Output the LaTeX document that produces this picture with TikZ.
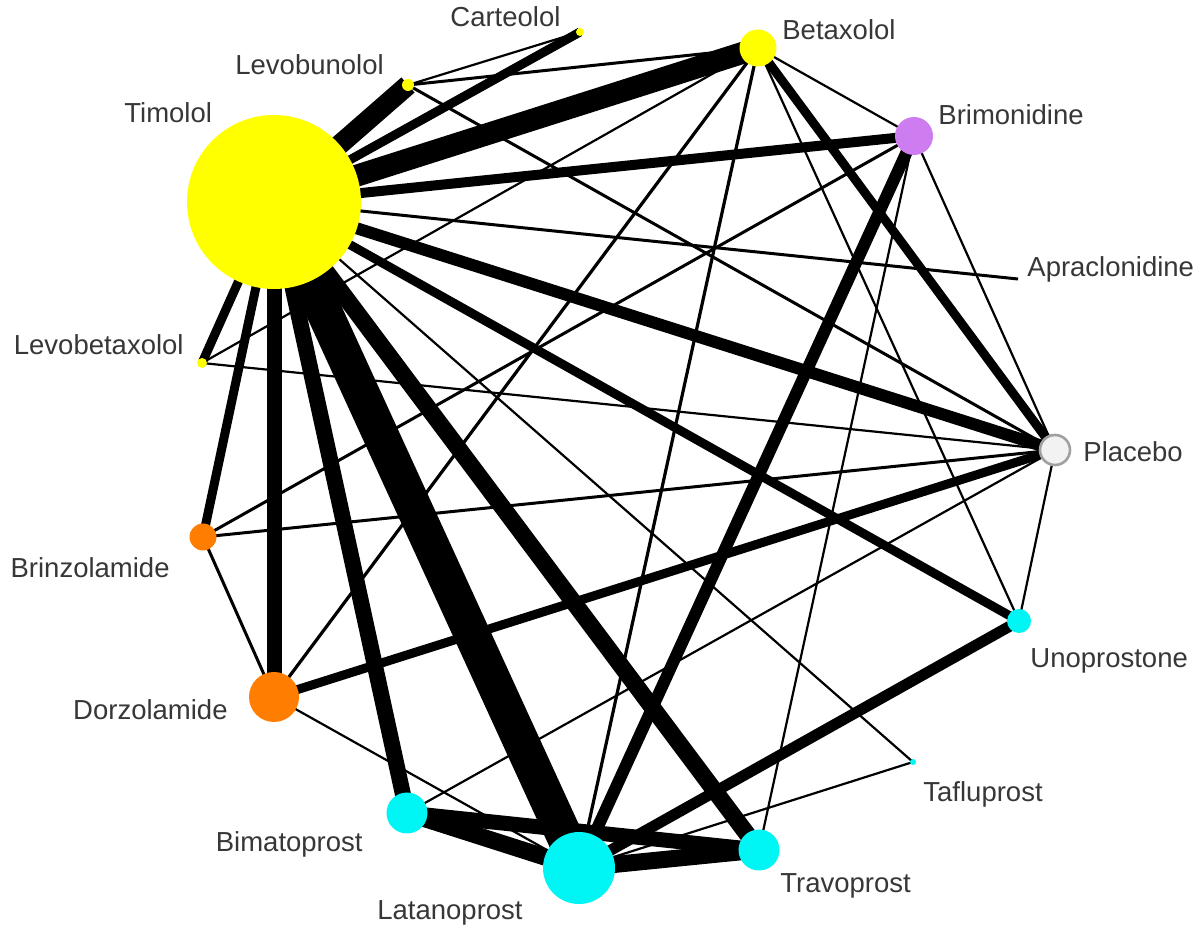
\documentclass[tikz,border=0pt]{standalone}
\usepackage{fontspec}
\setmainfont{Liberation Sans}
\definecolor{byel}{RGB}{255,255,0}
\definecolor{bvio}{RGB}{205,125,240}
\definecolor{bora}{RGB}{255,125,0}
\definecolor{bcya}{RGB}{0,245,245}
\definecolor{plfill}{RGB}{242,242,242}
\definecolor{pldraw}{RGB}{160,160,160}
\definecolor{txt}{RGB}{55,55,55}
\tikzset{
  ln/.style={draw=black, line width=#1*0.5pt},
  dot/.style={circle, inner sep=0pt, minimum size=#1*0.5pt},
  lab/.style={font=\fontsize{13.75}{16}\selectfont, text=txt, inner sep=0pt, text height=9.8pt, text depth=0pt}
}
\begin{document}
\begin{tikzpicture}[x=0.5pt,y=-0.5pt]
\useasboundingbox (0,0) rectangle (1200,929);
\fill[white] (0,0) rectangle (1200,929);
% positions (pixel units)
\coordinate (tim) at (274,202);
\coordinate (car) at (580,32);
\coordinate (lbu) at (408,85);
\coordinate (bet) at (758,48);
\coordinate (bri) at (914,136);
\coordinate (apr) at (1018,279);
\coordinate (pla) at (1055,450);
\coordinate (uno) at (1019,621);
\coordinate (taf) at (913,762);
\coordinate (tra) at (759,850);
\coordinate (lat) at (579,868);
\coordinate (bim) at (407,813);
\coordinate (dor) at (274,697);
\coordinate (brz) at (203,537);
\coordinate (lbx) at (202,363);
% thin edges
\draw[ln=2.2] (car) -- (lbu);
\draw[ln=3] (lbu) -- (bet);
\draw[ln=3] (lbu) -- (pla);
\draw[ln=2.2] (bet) -- (bri);
\draw[ln=2.2] (bet) -- (lbx);
\draw[ln=3.2] (bet) -- (dor);
\draw[ln=3.2] (bet) -- (lat);
\draw[ln=2.2] (bet) -- (uno);
\draw[ln=3] (bri) -- (brz);
\draw[ln=2.2] (bri) -- (tra);
\draw[ln=2.2] (bri) -- (pla);
\draw[ln=2.2] (lbx) -- (pla);
\draw[ln=3] (brz) -- (pla);
\draw[ln=3] (brz) -- (dor);
\draw[ln=2.2] (dor) -- (lat);
\draw[ln=2.2] (bim) -- (pla);
\draw[ln=2.2] (lat) -- (taf);
\draw[ln=2.2] (pla) -- (uno);
\draw[ln=2.2] (tim) -- (taf);
\draw[ln=3] (tim) -- (apr);
% thick edges
\draw[ln=9] (bet) -- (pla);
\draw[ln=12] (bri) -- (lat);
\draw[ln=9] (dor) -- (pla);
\draw[ln=11] (lat) -- (uno);
\draw[ln=17] (bim) -- (lat);
\draw[ln=15] (bim) -- (tra);
\draw[ln=17] (lat) -- (tra);
\draw[ln=9] (tim) -- (car);
\draw[ln=20] (tim) -- (lbu);
\draw[ln=22] (tim) -- (bet);
\draw[ln=10] (tim) -- (bri);
\draw[ln=12] (tim) -- (pla);
\draw[ln=9] (tim) -- (uno);
\draw[ln=17] (tim) -- (tra);
\draw[ln=36] (tim) -- (lat);
\draw[ln=16] (tim) -- (bim);
\draw[ln=15] (tim) -- (dor);
\draw[ln=9] (tim) -- (brz);
\draw[ln=9] (tim) -- (lbx);
% nodes
\node[dot=174, fill=byel] (timN) at (tim) {};
\node[dot=8, fill=byel] (carN) at (car) {};
\node[dot=12, fill=byel] (lbuN) at (lbu) {};
\node[dot=37, fill=byel] (betN) at (bet) {};
\node[dot=38, fill=bvio] (briN) at (bri) {};
\node[dot=0] (aprN) at (apr) {};
\node[dot=30, fill=plfill, draw=pldraw, line width=1.3pt] (plaN) at (pla) {};
\node[dot=24, fill=bcya] (unoN) at (uno) {};
\node[dot=6, fill=bcya] (tafN) at (taf) {};
\node[dot=41, fill=bcya] (traN) at (tra) {};
\node[dot=72, fill=bcya] (latN) at (lat) {};
\node[dot=41, fill=bcya] (bimN) at (bim) {};
\node[dot=50, fill=bora] (dorN) at (dor) {};
\node[dot=27, fill=bora] (brzN) at (brz) {};
\node[dot=10, fill=byel] (lbxN) at (lbx) {};
% labels
\node[lab, anchor=west] (carL) at (450,17) {Carteolol};
\node[lab, anchor=west] (lbuL) at (235,65) {Levobunolol};
\node[lab, anchor=west] (timL) at (124,113) {Timolol};
\node[lab, anchor=west] (betL) at (782,30) {Betaxolol};
\node[lab, anchor=west] (briL) at (938,115) {Brimonidine};
\node[lab, anchor=west] (aprL) at (1027,267) {Apraclonidine};
\node[lab, anchor=west] (plaL) at (1083,452) {Placebo};
\node[lab, anchor=west] (unoL) at (1030,658) {Unoprostone};
\node[lab, anchor=west] (tafL) at (923,792) {Tafluprost};
\node[lab, anchor=west] (traL) at (780,883) {Travoprost};
\node[lab, anchor=west] (latL) at (377,910) {Latanoprost};
\node[lab, anchor=east] (bimL) at (363,842) {Bimatoprost};
\node[lab, anchor=east] (dorL) at (228,710) {Dorzolamide};
\node[lab, anchor=east] (brzL) at (170,568) {Brinzolamide};
\node[lab, anchor=east] (lbxL) at (184,345) {Levobetaxolol};
\end{tikzpicture}
\end{document}
